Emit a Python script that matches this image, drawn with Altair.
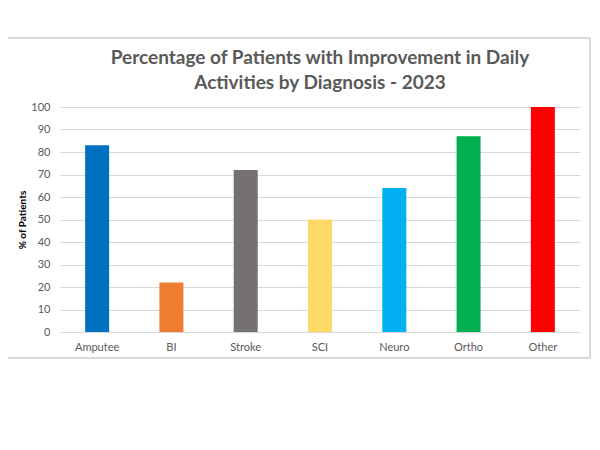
import altair as alt
import pandas as pd

categories = ["Amputee", "BI", "Stroke", "SCI", "Neuro", "Ortho", "Other"]
values = [83, 22, 72, 50, 64, 87, 100]
colors = ["#0070C0", "#ED7D31", "#767171", "#FFD966", "#00B0F0", "#00B050", "#FF0000"]

df = pd.DataFrame({"Diagnosis": categories, "Pct": values, "Color": colors})

FONT = "Lato"

bars = alt.Chart(df).mark_bar(size=24).encode(
    x=alt.X("Diagnosis:N", sort=categories, title=None,
            axis=alt.Axis(labelAngle=0, labelFont=FONT, labelFontSize=11,
                          labelColor="#595959", ticks=False, domainColor="#d9d9d9",
                          labelPadding=9)),
    y=alt.Y("Pct:Q", scale=alt.Scale(domain=[0, 100]), title="% of Patients",
            axis=alt.Axis(values=list(range(0, 101, 10)), labelFont=FONT, labelFontSize=11,
                          labelColor="#595959", ticks=False, domain=False,
                          gridColor="#d9d9d9", titleFont=FONT, titleFontSize=10,
                          titleFontWeight="bold", titleColor="#000000", titlePadding=3,
                          labelPadding=10)),
    color=alt.Color("Color:N", scale=None, legend=None),
)

frame = alt.Chart(df).mark_rect(fill=None, stroke="#d9d9d9", strokeWidth=1).encode(
    x=alt.value(-53), x2=alt.value(530), y=alt.value(-69), y2=alt.value(251)
)

chart = alt.layer(frame, bars).properties(
    width=520, height=225,
    title=alt.TitleParams(
        ["Percentage of Patients with Improvement in Daily", "Activities by Diagnosis - 2023"],
        font=FONT, fontSize=19, fontWeight="bold", color="#595959", anchor="middle",
        frame="group", offset=-55, lineHeight=25,
    ),
    autosize=alt.AutoSizeParams(type="none"),
    padding={"left": 52, "top": 99, "right": 12, "bottom": 40},
).configure_view(stroke=None)

chart.save("out.html", embed_options={"renderer": "svg", "actions": False})
